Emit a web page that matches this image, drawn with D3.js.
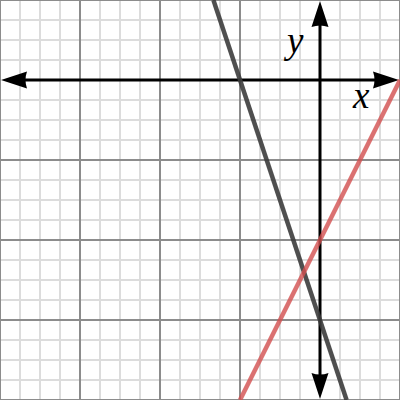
<!DOCTYPE html>
<html lang="en">
<head>
<meta charset="UTF-8">
<title>two lines</title>
<script src="https://cdn.jsdelivr.net/npm/d3@7"></script>
<style>
  html, body { margin: 0; padding: 0; background: #fff; }
  svg { display: block; }
  .minor { stroke: #dcdcdc; stroke-width: 2; }
  .major { stroke: #8c8c8c; stroke-width: 2; }
  .axis-line { stroke: #000; stroke-width: 3; }
  .arrow { fill: #000; }
  .label { font-family: "Liberation Serif", "DejaVu Serif", serif; font-style: italic; font-size: 37px; fill: #000; }
</style>
</head>
<body>
<svg width="400" height="400"></svg>
<script>
  var xRange = [-16, 4],
      yRange = [-16, 4],
      gridStep = 1,
      majorEvery = 4;

  // endpoints (where each line leaves the grid)
  var grayLine = [[-5.33, 4], [1.33, -16]],
      redLine = [[-4, -16], [4, 0]];

  var axisLabels = ['x', 'y'];

  var svg = d3.select('svg'),
      width = 400,
      height = 400;

  var x = d3.scaleLinear().domain(xRange).range([0, width]),
      y = d3.scaleLinear().domain(yRange).range([height, 0]);

  var ticksX = d3.range(xRange[0], xRange[1] + gridStep, gridStep),
      ticksY = d3.range(yRange[0], yRange[1] + gridStep, gridStep);

  function isMajor(v) { return v % majorEvery === 0; }

  var grid = svg.append('g');

  // minor first, then major on top
  [false, true].forEach(function(major) {
    grid.selectAll(null)
      .data(ticksX.filter(function(d) { return isMajor(d) === major && d !== 0; }))
      .enter().append('line')
        .attr('class', major ? 'major' : 'minor')
        .attr('x1', function(d) { return x(d); })
        .attr('x2', function(d) { return x(d); })
        .attr('y1', 0).attr('y2', height);

    grid.selectAll(null)
      .data(ticksY.filter(function(d) { return isMajor(d) === major && d !== 0; }))
      .enter().append('line')
        .attr('class', major ? 'major' : 'minor')
        .attr('y1', function(d) { return y(d); })
        .attr('y2', function(d) { return y(d); })
        .attr('x1', 0).attr('x2', width);
  });

  // axes with arrow heads at both ends
  var axes = svg.append('g');
  var arrowPath = 'M0,0 L-26,-8.5 Q-23,0 -26,8.5 Z';

  axes.append('line').classed('axis-line', true)
    .attr('x1', x(xRange[0]) + 20).attr('x2', x(xRange[1]) - 20)
    .attr('y1', y(0)).attr('y2', y(0));
  axes.append('line').classed('axis-line', true)
    .attr('y1', y(yRange[0]) - 20).attr('y2', y(yRange[1]) + 20)
    .attr('x1', x(0)).attr('x2', x(0));

  var arrows = [
    { px: x(xRange[1]) - 1, py: y(0), rot: 0 },
    { px: x(xRange[0]) + 1, py: y(0), rot: 180 },
    { px: x(0), py: y(yRange[1]) + 1, rot: -90 },
    { px: x(0), py: y(yRange[0]) - 1, rot: 90 }
  ];
  axes.selectAll('path.arrow')
    .data(arrows)
    .enter().append('path')
      .classed('arrow', true)
      .attr('d', arrowPath)
      .attr('transform', function(d) { return 'translate(' + d.px + ',' + d.py + ') rotate(' + d.rot + ')'; });

  axes.append('text').classed('label', true)
    .attr('x', x(0) + 33).attr('y', y(0) + 28)
    .text(axisLabels[0]);
  axes.append('text').classed('label', true)
    .attr('x', x(0) - 33).attr('y', y(0) - 27)
    .text(axisLabels[1]);

  var line = d3.line()
    .x(function(d) { return x(d[0]); })
    .y(function(d) { return y(d[1]); });

  svg.append('path')
    .datum(grayLine)
    .attr('d', line)
    .attr('fill', 'none')
    .attr('stroke', '#3c3c3c')
    .attr('stroke-opacity', 0.9)
    .attr('stroke-width', 4.5);

  svg.append('path')
    .datum(redLine)
    .attr('d', line)
    .attr('fill', 'none')
    .attr('stroke', '#d24f4f')
    .attr('stroke-opacity', 0.8)
    .attr('stroke-width', 4.5);
</script>
</body>
</html>
